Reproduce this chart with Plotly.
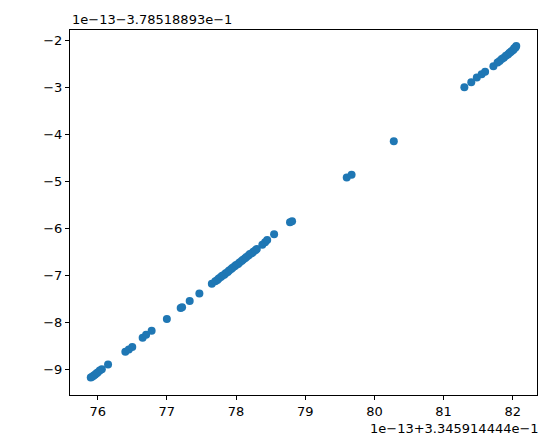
import plotly.graph_objects as go

# values shown relative to the offsets (units of 1e-13)
x_vals = [75.90, 75.92, 75.94, 75.96, 75.98, 76.00, 76.03, 76.06, 76.15,
          76.40, 76.45, 76.50, 76.65, 76.70, 76.78, 77.00, 77.20, 77.22,
          77.33, 77.47, 77.65, 77.70, 77.73, 77.75, 77.78, 77.80, 77.83,
          77.85, 77.88, 77.90, 77.93, 77.95, 77.98, 78.00, 78.03, 78.05,
          78.08, 78.10, 78.13, 78.15, 78.18, 78.20, 78.23, 78.25, 78.28,
          78.30, 78.38, 78.42, 78.45, 78.55, 78.78, 78.81, 79.60, 79.67,
          80.28, 81.30, 81.40, 81.48, 81.55, 81.60, 81.72, 81.78, 81.81,
          81.84, 81.87, 81.90, 81.93, 81.95, 81.97, 81.99, 82.01, 82.02,
          82.04, 82.05]
y_vals = [-9.18, -9.16, -9.14, -9.12, -9.09, -9.07, -9.03, -9.00, -8.90,
          -8.63, -8.58, -8.53, -8.33, -8.27, -8.18, -7.93, -7.70, -7.68,
          -7.55, -7.39, -7.18, -7.13, -7.10, -7.07, -7.04, -7.01, -6.99,
          -6.96, -6.93, -6.90, -6.87, -6.84, -6.81, -6.78, -6.76, -6.73,
          -6.70, -6.67, -6.64, -6.61, -6.58, -6.55, -6.53, -6.50, -6.47,
          -6.44, -6.35, -6.30, -6.25, -6.13, -5.87, -5.85, -4.92, -4.86,
          -4.15, -3.00, -2.89, -2.79, -2.72, -2.67, -2.55, -2.47, -2.44,
          -2.40, -2.37, -2.33, -2.30, -2.27, -2.25, -2.22, -2.20, -2.17,
          -2.15, -2.12]

fig = go.Figure(go.Scatter(
    x=x_vals, y=y_vals, mode="markers",
    marker=dict(color="#1f77b4", size=8, line=dict(width=0)),
))

axis_style = dict(showgrid=False, zeroline=False, showline=True, linecolor="black",
                  linewidth=1, mirror=True, ticks="outside", ticklen=4,
                  tickcolor="black", tickfont=dict(size=13, color="black"))
fig.update_xaxes(range=[75.6, 82.35], dtick=1, **axis_style)
fig.update_yaxes(range=[-9.55, -1.78], dtick=1, tickformat="d", **axis_style)

fig.update_layout(
    width=546, height=446,
    margin=dict(l=62, r=17, t=22, b=59),
    plot_bgcolor="white", paper_bgcolor="white",
    font=dict(family="DejaVu Sans", color="black"),
    showlegend=False,
    annotations=[
        dict(text="1e\u221213\u22123.78518893e\u22121", xref="paper", yref="paper",
             x=0, y=1, xanchor="left", yanchor="bottom", showarrow=False,
             font=dict(size=13), yshift=1),
        dict(text="1e\u221213+3.345914444e\u22121", xref="paper", yref="paper",
             x=1, y=0, xanchor="right", yanchor="top", showarrow=False,
             font=dict(size=13), yshift=-24, xshift=4),
    ],
)

fig.write_html("out.html")
